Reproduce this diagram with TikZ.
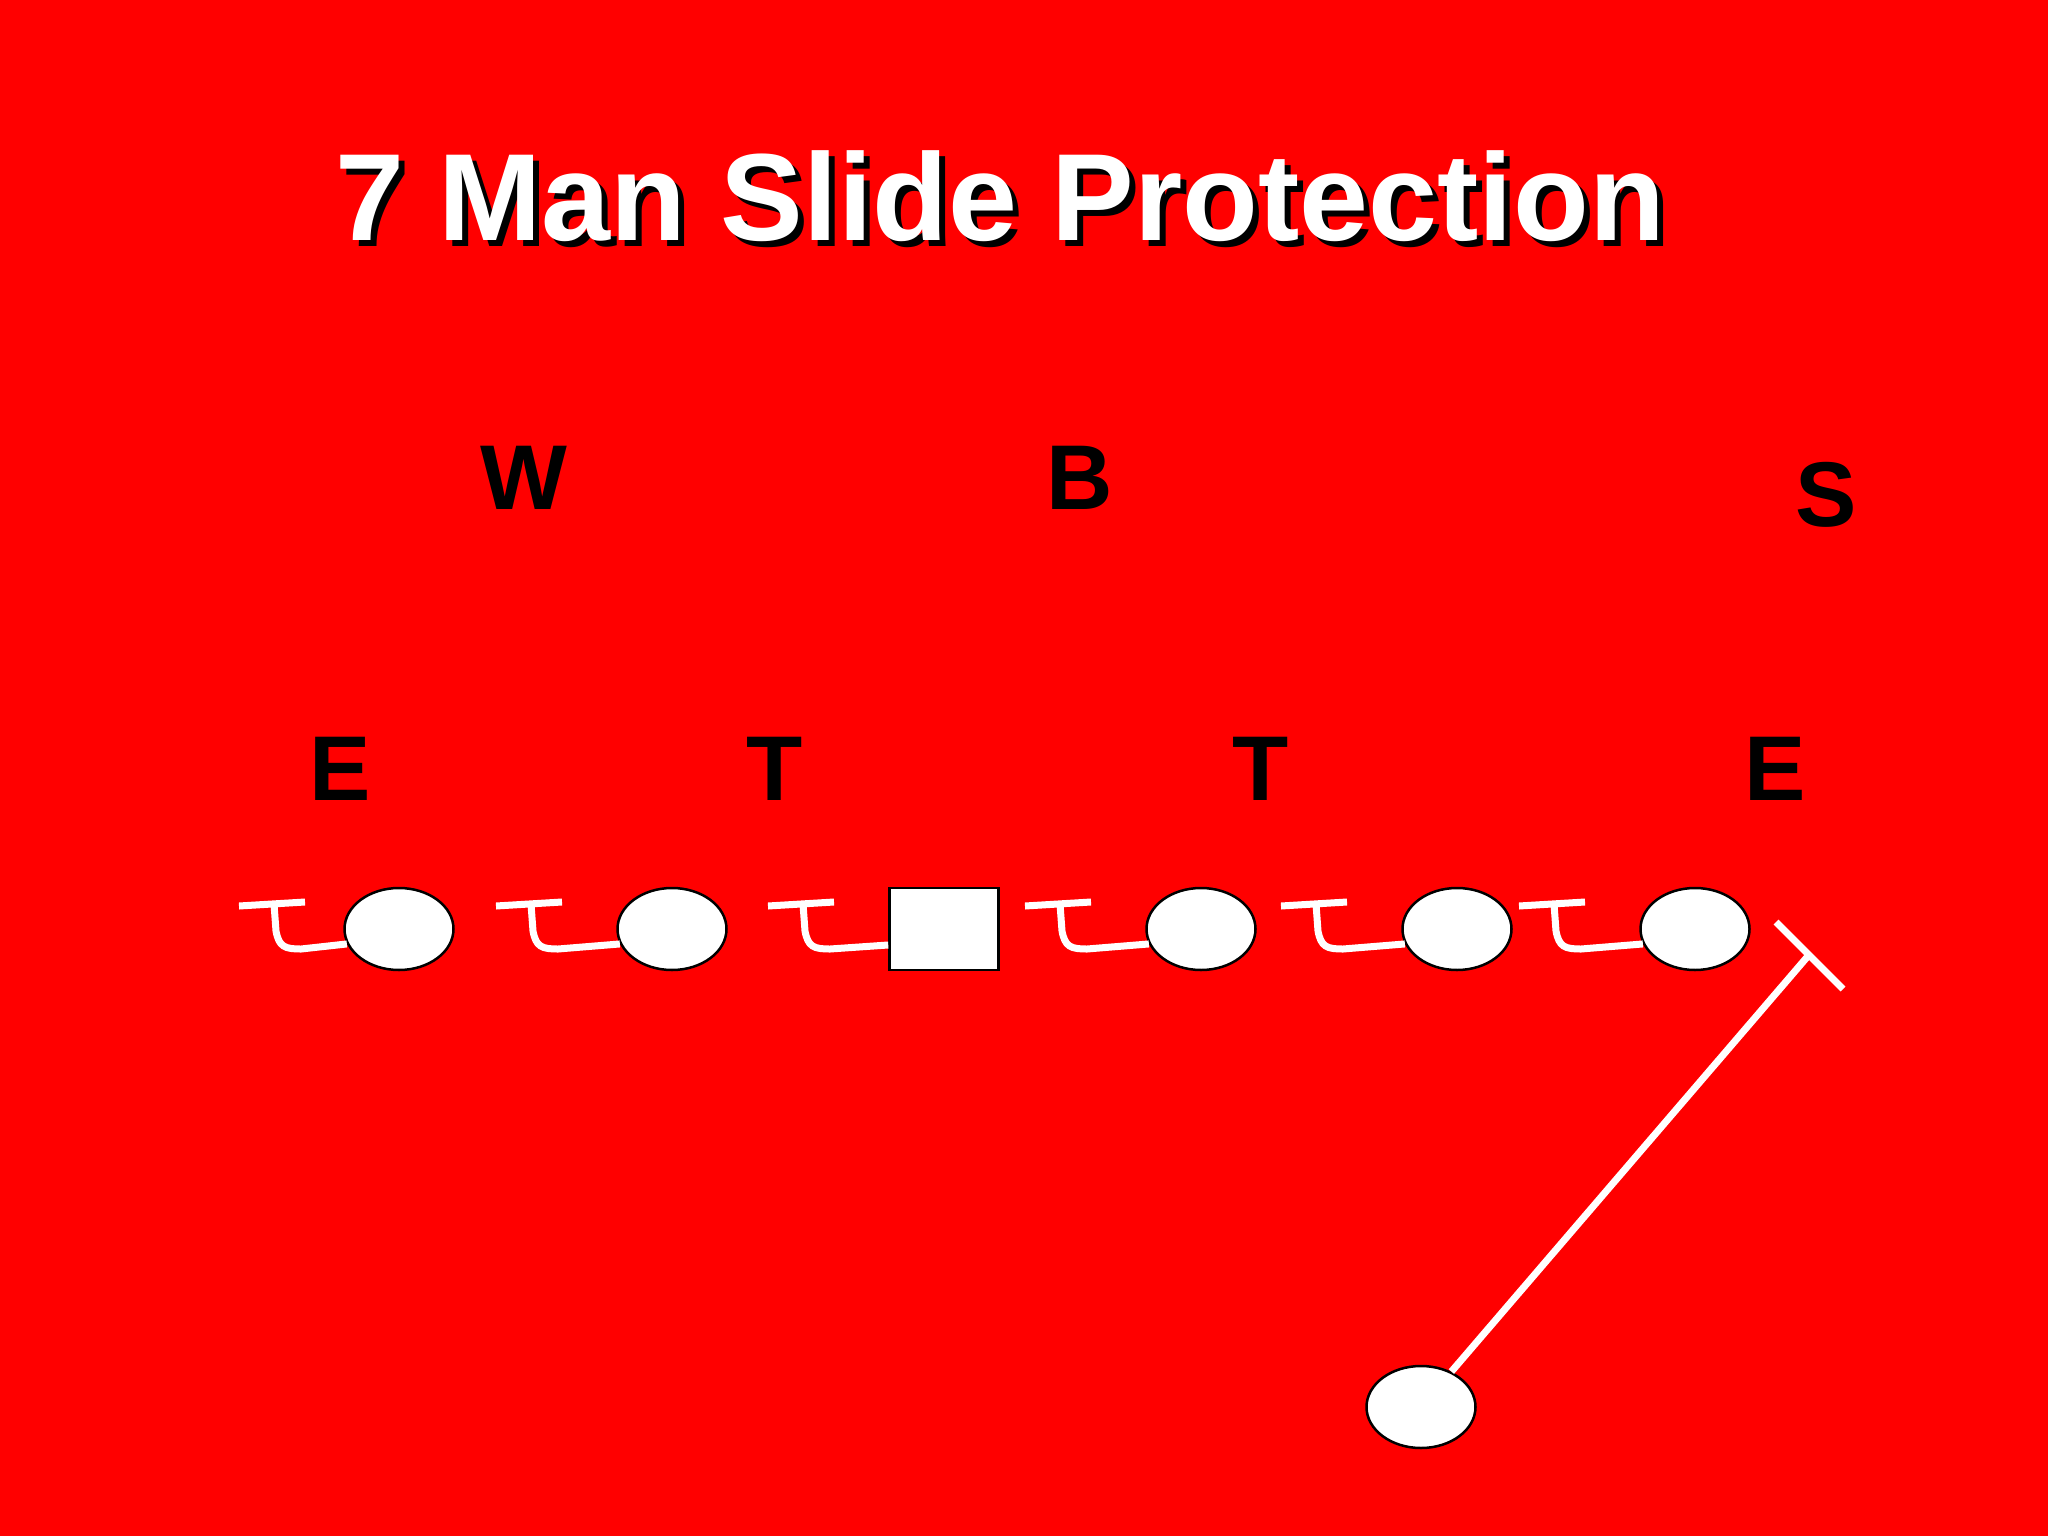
\documentclass[tikz,border=0pt]{standalone}
\usepackage{fontspec}
\setmainfont{Liberation Sans}
\usetikzlibrary{shapes.geometric}

\begin{document}
\begin{tikzpicture}[x=1pt,y=-1pt,
  lineman/.style={ellipse,draw=black,fill=white,line width=2.5pt,
    minimum width=109pt,minimum height=82pt,inner sep=0pt},
  snapbox/.style={rectangle,draw=black,fill=white,line width=2.5pt,
    minimum width=109pt,minimum height=82pt,inner sep=0pt},
  block/.style={draw=white,line width=7pt},
  defender/.style={font=\fontsize{92}{96}\selectfont\bfseries,inner sep=0pt}]

% Field
\fill[red] (0,0) rectangle (2048,1536);
\useasboundingbox (0,0) rectangle (2048,1536);

% Title
\node[anchor=base west,inner sep=0pt,text=black,font=\fontsize{124}{130}\selectfont\bfseries]
  (titleshadow) at (341,246) {7 Man Slide Protection};
\node[anchor=base west,inner sep=0pt,text=white,font=\fontsize{124}{130}\selectfont\bfseries]
  (title) at (335,240) {7 Man Slide Protection};

% ---- Defense ----
\node[defender] (w) at (524,478) {W};
\node[defender] (b) at (1080,478) {B};
\node[defender] (s) at (1826,495) {S};

\node[defender] (e1) at (340,769) {E};
\node[defender] (t1) at (775,769) {T};
\node[defender] (t2) at (1261,769) {T};
\node[defender] (e2) at (1775,769) {E};

% ---- Offense ----
\node[lineman] (o1) at (399,929) {};
\node[lineman] (o2) at (672,929) {};
\node[snapbox] (c) at (944,929) {};
\node[lineman] (o4) at (1201,929) {};
\node[lineman] (o5) at (1457,929) {};
\node[lineman] (o6) at (1695,929) {};

\node[lineman] (qb) at (1421,1407) {};

% Slide blocks
\foreach \p/\bx in {o1/-160,o2/-176,c/-176,o4/-176,o5/-176,o6/-176} {
  \begin{scope}[shift={(\p.center)}]
    \draw[block] (\bx,-23) -- (\bx+66,-27);
    \draw[block] (\bx+35,-25) -- (\bx+37,2)
      .. controls (\bx+40,18) and (\bx+46,20) .. (\bx+62,20) -- (\p.196);
  \end{scope}
}

% Back's block
\coordinate (jn) at (1808,956);
\draw[block] (qb) -- (jn);
\draw[block] (1776,922) -- (1843,989);

\end{tikzpicture}
\end{document}
